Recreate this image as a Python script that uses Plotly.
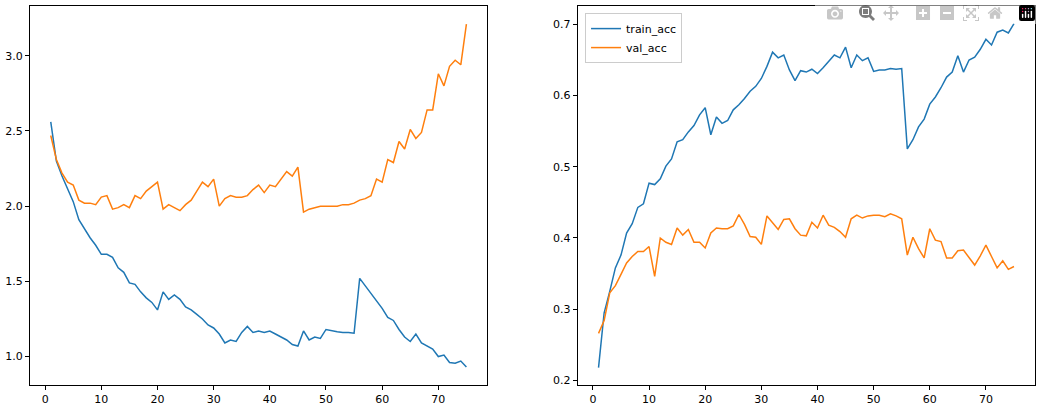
import plotly.graph_objects as go

epochs = list(range(1, 76))

train_loss = [2.56, 2.30, 2.20, 2.11, 2.03, 1.91, 1.85, 1.79, 1.74, 1.68, 1.68, 1.66, 1.59, 1.56, 1.49,
              1.48, 1.43, 1.39, 1.36, 1.31, 1.43, 1.38, 1.41, 1.38, 1.33, 1.31, 1.28, 1.25, 1.21, 1.19,
              1.15, 1.09, 1.11, 1.10, 1.16, 1.20, 1.16, 1.17, 1.16, 1.17, 1.15, 1.13, 1.11, 1.08, 1.07,
              1.17, 1.11, 1.13, 1.12, 1.18, 1.17, 1.165, 1.16, 1.16, 1.155, 1.52, 1.47, 1.42, 1.37, 1.32,
              1.26, 1.24, 1.18, 1.13, 1.10, 1.15, 1.09, 1.07, 1.05, 1.00, 1.01, 0.96, 0.955, 0.97, 0.93]
val_loss = [2.47, 2.31, 2.22, 2.16, 2.14, 2.04, 2.02, 2.02, 2.01, 2.06, 2.07, 1.98, 1.99, 2.01, 1.99,
            2.07, 2.05, 2.10, 2.13, 2.16, 1.98, 2.01, 1.99, 1.97, 2.01, 2.04, 2.10, 2.16, 2.13, 2.18,
            2.00, 2.05, 2.07, 2.06, 2.06, 2.07, 2.11, 2.14, 2.09, 2.14, 2.13, 2.18, 2.23, 2.20, 2.26,
            1.96, 1.98, 1.99, 2.00, 2.00, 2.00, 2.00, 2.01, 2.01, 2.02, 2.04, 2.05, 2.07, 2.18, 2.16,
            2.31, 2.29, 2.43, 2.38, 2.51, 2.45, 2.49, 2.64, 2.64, 2.88, 2.80, 2.93, 2.97, 2.94, 3.21]
train_acc = [0.218, 0.295, 0.325, 0.358, 0.376, 0.407, 0.420, 0.443, 0.448, 0.477, 0.475, 0.483, 0.501, 0.511, 0.535,
             0.538, 0.549, 0.558, 0.573, 0.583, 0.545, 0.570, 0.561, 0.565, 0.580, 0.587, 0.596, 0.606, 0.613, 0.624,
             0.641, 0.661, 0.653, 0.657, 0.636, 0.621, 0.635, 0.633, 0.637, 0.631, 0.639, 0.648, 0.657, 0.653, 0.668,
             0.639, 0.657, 0.649, 0.653, 0.634, 0.636, 0.636, 0.638, 0.637, 0.638, 0.525, 0.538, 0.556, 0.567, 0.588,
             0.598, 0.611, 0.626, 0.633, 0.656, 0.633, 0.650, 0.654, 0.665, 0.679, 0.671, 0.689, 0.692, 0.688, 0.701]
val_acc = [0.266, 0.284, 0.323, 0.333, 0.349, 0.365, 0.374, 0.381, 0.381, 0.388, 0.346, 0.400, 0.394, 0.391, 0.414,
           0.404, 0.412, 0.394, 0.394, 0.386, 0.407, 0.414, 0.413, 0.413, 0.417, 0.433, 0.419, 0.402, 0.401, 0.391,
           0.431, 0.422, 0.412, 0.426, 0.427, 0.413, 0.404, 0.403, 0.422, 0.414, 0.432, 0.418, 0.415, 0.409, 0.401,
           0.427, 0.432, 0.428, 0.431, 0.432, 0.432, 0.430, 0.434, 0.431, 0.427, 0.376, 0.401, 0.385, 0.372, 0.413,
           0.397, 0.395, 0.372, 0.372, 0.382, 0.383, 0.372, 0.362, 0.375, 0.390, 0.374, 0.358, 0.368, 0.356, 0.360]

blue, orange = "#1f77b4", "#ff7f0e"

fig = go.Figure()
fig.add_scatter(x=epochs, y=train_loss, mode="lines", line=dict(color=blue, width=1.5), showlegend=False)
fig.add_scatter(x=epochs, y=val_loss, mode="lines", line=dict(color=orange, width=1.5), showlegend=False)
fig.add_scatter(x=epochs, y=train_acc, mode="lines", line=dict(color=blue, width=1.5), name="train_acc",
                xaxis="x2", yaxis="y2")
fig.add_scatter(x=epochs, y=val_acc, mode="lines", line=dict(color=orange, width=1.5), name="val_acc",
                xaxis="x2", yaxis="y2")

ax = dict(showgrid=False, zeroline=False, showline=True, linecolor="black", linewidth=1, mirror=True,
          ticks="outside", ticklen=4, tickcolor="black", tickfont=dict(size=11, color="black"))
fig.update_layout(
    width=1041, height=411, margin=dict(l=0, r=0, t=0, b=0),
    plot_bgcolor="white", paper_bgcolor="white",
    font=dict(family="DejaVu Sans"),
    xaxis=dict(ax, domain=[0.0288, 0.468], range=[-2.7, 78.7], tickvals=[0, 10, 20, 30, 40, 50, 60, 70], anchor="y"),
    yaxis=dict(ax, domain=[0.0584, 0.985], range=[0.81, 3.33], tickvals=[1.0, 1.5, 2.0, 2.5, 3.0],
               tickformat=".1f", anchor="x"),
    xaxis2=dict(ax, domain=[0.555, 0.994], range=[-2.7, 78.7], tickvals=[0, 10, 20, 30, 40, 50, 60, 70], anchor="y2"),
    yaxis2=dict(ax, domain=[0.0584, 0.985], range=[0.1934, 0.7256], tickvals=[0.2, 0.3, 0.4, 0.5, 0.6, 0.7],
                tickformat=".1f", anchor="x2"),
    legend=dict(x=0.562, y=0.968, xanchor="left", yanchor="top", bgcolor="rgba(255,255,255,0.8)",
                bordercolor="#cccccc", borderwidth=1, font=dict(size=11, color="black")),
)

# drop the browser's default 8px body margin so the figure sits at the page origin
fig.write_html("out.html", post_script="document.body.style.margin='0';")
